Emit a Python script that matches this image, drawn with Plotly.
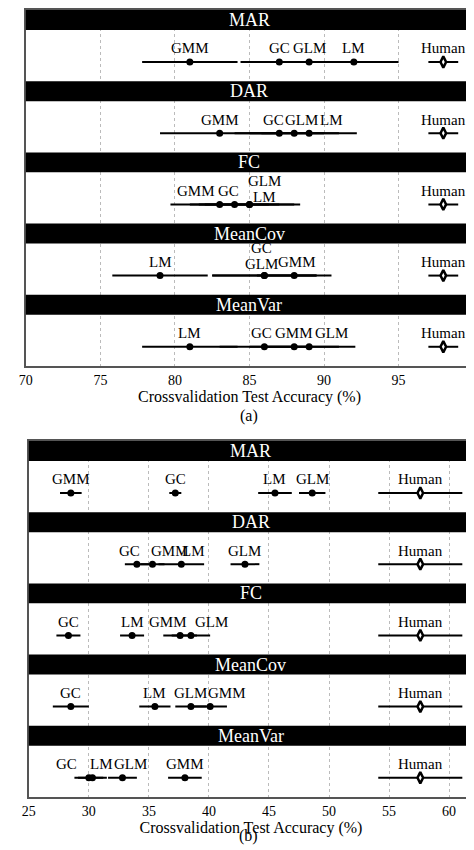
import plotly.graph_objects as go

features = ["MAR", "DAR", "FC", "MeanCov", "MeanVar"]
methods = ["GC", "GLM", "GMM", "LM"]

# panel (a): mean accuracy and error half-width per feature, ordered as methods
acc_a = {
    "MAR": [87, 89, 81, 92],
    "DAR": [87, 88, 83, 89],
    "FC": [84, 85, 83, 85],
    "MeanCov": [86, 86, 88, 79],
    "MeanVar": [86, 89, 88, 81],
}
err_a = {
    "MAR": [2.6, 2.5, 3.2, 3.0],
    "DAR": [3.0, 3.0, 4.0, 3.2],
    "FC": [3.0, 3.0, 3.3, 3.4],
    "MeanCov": [3.5, 3.5, 2.5, 3.2],
    "MeanVar": [3.0, 3.1, 3.0, 3.2],
}
human_a, human_err_a = 98, 1.0

# panel (b)
acc_b = {
    "MAR": [37.2, 48.6, 28.5, 45.5],
    "DAR": [34.0, 43.0, 35.3, 37.7],
    "FC": [28.3, 38.5, 37.6, 33.6],
    "MeanCov": [28.5, 38.5, 40.1, 35.5],
    "MeanVar": [30.0, 32.8, 38.0, 30.3],
}
err_b = {
    "MAR": [0.5, 1.1, 0.9, 1.4],
    "DAR": [1.0, 1.2, 1.0, 1.9],
    "FC": [1.0, 1.6, 1.4, 1.0],
    "MeanCov": [1.5, 1.3, 1.4, 1.3],
    "MeanVar": [1.2, 1.2, 1.4, 1.2],
}
human_b, human_err_b = 57.6, 3.5

# label offsets (px) to mimic the original text placement
label_shift_a = {("DAR", "GC"): (-6, 0), ("DAR", "GLM"): (7, 0), ("DAR", "LM"): (22, 0),
                 ("FC", "GMM"): (-24, 0), ("FC", "GC"): (-6, 0),
                 ("FC", "GLM"): (15, 10), ("FC", "LM"): (15, -6),
                 ("MeanCov", "GC"): (-3, 14), ("MeanCov", "GLM"): (-3, -2),
                 ("MeanCov", "GMM"): (3, 0),
                 ("MeanVar", "GC"): (-3, 0), ("MeanVar", "GMM"): (0, 0),
                 ("MeanVar", "GLM"): (22, 0)}
label_shift_b = {("DAR", "GC"): (-7, 0), ("DAR", "GMM"): (18, 0), ("DAR", "LM"): (12, 0),
                 ("FC", "GMM"): (-12, 0), ("FC", "GLM"): (21, 0),
                 ("MeanCov", "GMM"): (17, 0),
                 ("MeanVar", "GC"): (-22, 0), ("MeanVar", "LM"): (9, 0),
                 ("MeanVar", "GLM"): (8, 0)}

FONT = "Liberation Serif, Times New Roman, DejaVu Serif, serif"
fig = go.Figure()
n = len(features)
HEAD = 0.28  # header fraction of each group
shapes, annots = [], []


def add_panel(acc, err, human, herr, xa, ya, shifts):
    for i, f in enumerate(features):
        base = n - 1 - i
        ypt = base + 0.27
        fig.add_trace(go.Scatter(
            x=acc[f], y=[ypt] * len(methods), mode="markers",
            error_x=dict(type="data", array=err[f], color="black", thickness=2, width=0),
            marker=dict(color="black", size=7), xaxis=xa, yaxis=ya, showlegend=False))
        fig.add_trace(go.Scatter(
            x=[human], y=[ypt], mode="markers",
            error_x=dict(type="data", array=[herr], color="black", thickness=2, width=0),
            marker=dict(color="white", size=8, symbol="diamond-tall",
                        line=dict(color="black", width=2.5)),
            xaxis=xa, yaxis=ya, showlegend=False))
        shapes.append(dict(type="rect", xref=xa + " domain", yref=ya,
                           x0=0, x1=1, y0=base + 1 - HEAD, y1=base + 1,
                           fillcolor="black", line=dict(width=0), layer="above"))
        annots.append(dict(text=f, xref=xa + " domain", yref=ya, x=0.5,
                           y=base + 1 - HEAD / 2, showarrow=False,
                           font=dict(family=FONT, size=18, color="white")))
        for m, v in zip(methods, acc[f]):
            dx, dy = shifts.get((f, m), (0, 0))
            annots.append(dict(text=m, xref=xa, yref=ya, x=v, y=base + 0.46,
                               xshift=dx, yshift=dy, showarrow=False,
                               font=dict(family=FONT, size=15, color="black")))
        annots.append(dict(text="Human", xref=xa, yref=ya, x=human, y=base + 0.46,
                           showarrow=False, font=dict(family=FONT, size=15, color="black")))


add_panel(acc_a, err_a, human_a, human_err_a, "x", "y", label_shift_a)
add_panel(acc_b, err_b, human_b, human_err_b, "x2", "y2", label_shift_b)

axis_common = dict(showline=True, linecolor="#555", linewidth=1.5, mirror=True,
                   showgrid=True, gridcolor="#bbb", griddash="dot", zeroline=False,
                   ticks="", tickfont=dict(family=FONT, size=14, color="black"),
                   title=dict(text="Crossvalidation Test Accuracy (%)",
                              font=dict(family=FONT, size=16, color="black"), standoff=0))
yaxis_common = dict(range=[0, n], showticklabels=False, showgrid=False, zeroline=False,
                    showline=True, linecolor="#555", linewidth=1.5, mirror=True)

annots.append(dict(text="(a)", xref="paper", yref="paper", x=0.5, y=1 - 408 / 850,
                   showarrow=False, font=dict(family=FONT, size=16, color="black")))
annots.append(dict(text="(b)", xref="paper", yref="paper", x=0.5, y=1 - 839 / 850,
                   showarrow=False, font=dict(family=FONT, size=16, color="black")))

fig.update_layout(
    width=474, height=850, margin=dict(l=0, r=0, t=0, b=0),
    plot_bgcolor="white", paper_bgcolor="white",
    xaxis=dict(axis_common, domain=[11 / 474, 465 / 474], range=[70, 100.001],
               tickvals=[70, 75, 80, 85, 90, 95, 100], anchor="y"),
    yaxis=dict(yaxis_common, domain=[1 - 358 / 850, 1 - 2 / 850], anchor="x"),
    xaxis2=dict(axis_common, domain=[14 / 474, 465 / 474], range=[25, 62], dtick=5, anchor="y2"),
    yaxis2=dict(yaxis_common, domain=[1 - 789 / 850, 1 - 433 / 850], anchor="x2"),
    shapes=shapes, annotations=annots)

fig.write_html("out.html")
